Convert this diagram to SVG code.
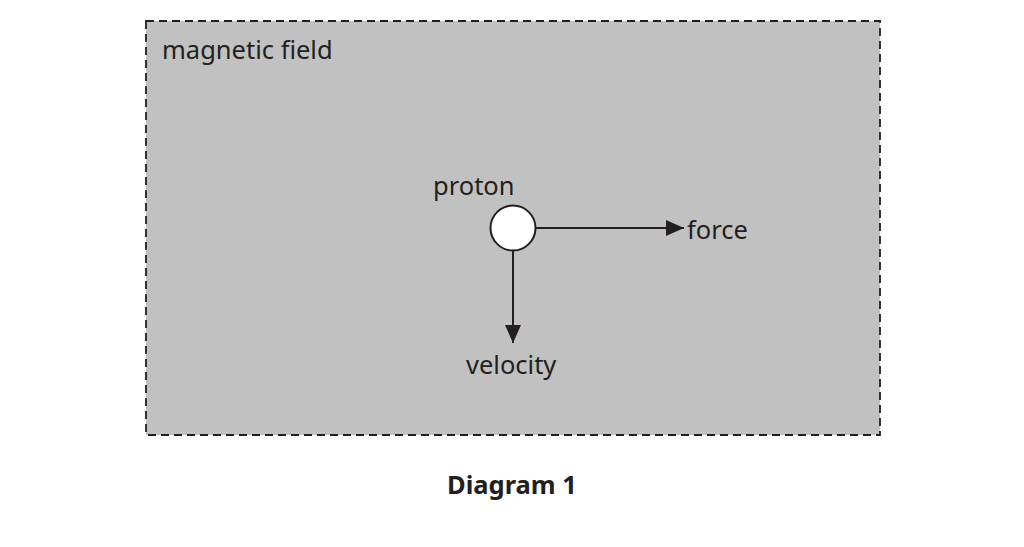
<svg xmlns="http://www.w3.org/2000/svg" width="1024" height="547" viewBox="0 0 1024 547">
<style>
text{font-family:"Noto Sans","Open Sans",sans-serif;fill:#231f20;font-size:25.5px}
.conn{stroke:#231f20;stroke-width:2;fill:none}
</style>
<defs>
<marker id="ah" markerWidth="18" markerHeight="16" refX="18" refY="8" orient="auto" markerUnits="userSpaceOnUse">
<path d="M0,0 L18,8 L0,16 Z" fill="#231f20"/>
</marker>
</defs>
<rect width="1024" height="547" fill="#fff"/>
<g id="field">
<rect x="146" y="21" width="734" height="414" fill="#c1c1c1" stroke="#231f20" stroke-width="1.8" stroke-dasharray="8,5"/>
<text x="162" y="59">magnetic field</text>
</g>
<g id="connectors">
<line class="conn" x1="536" y1="228" x2="684" y2="228" marker-end="url(#ah)"/>
<line class="conn" x1="513" y1="251" x2="513" y2="343" marker-end="url(#ah)"/>
</g>
<g id="proton">
<circle cx="513" cy="228" r="22.5" fill="#fff" stroke="#231f20" stroke-width="2"/>
<text x="433" y="195">proton</text>
</g>
<g id="force"><text x="687" y="239">force</text></g>
<g id="velocity"><text x="466" y="374">velocity</text></g>
<g id="caption"><text x="447" y="494" font-weight="bold">Diagram 1</text></g>
</svg>
